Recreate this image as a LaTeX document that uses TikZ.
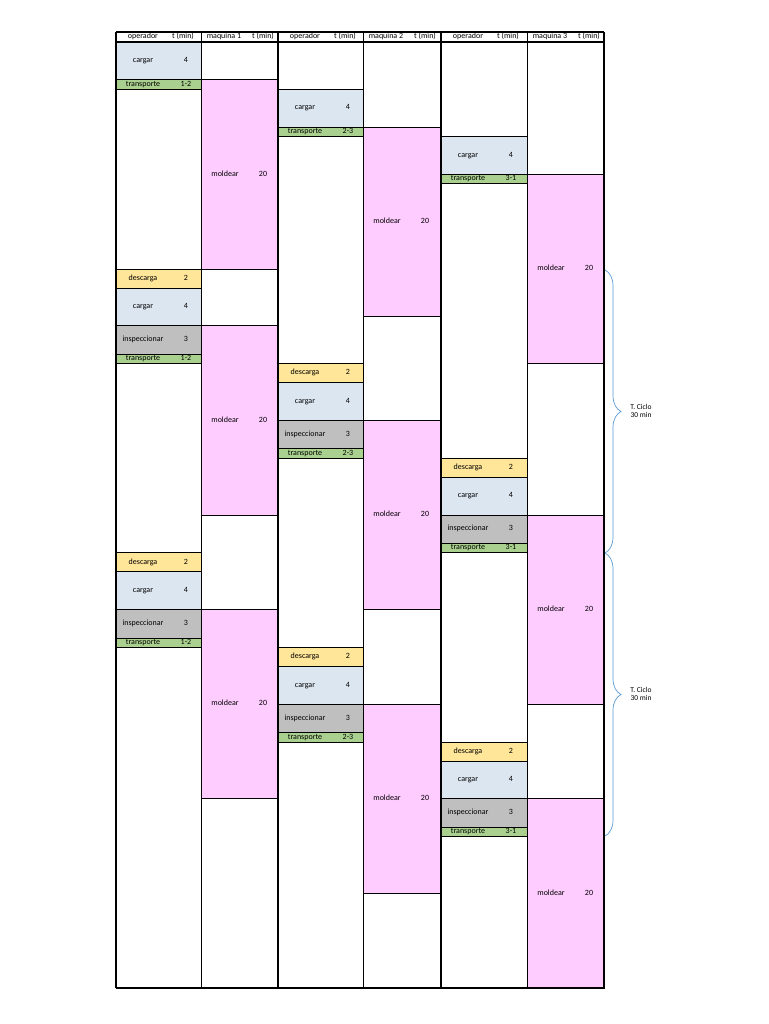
\documentclass[tikz,border=0pt]{standalone}
\usepackage{fontspec}
\setmainfont{Carlito}
\usetikzlibrary{decorations.pathreplacing}
\definecolor{cload}{HTML}{DCE6F1}
\definecolor{ctrans}{HTML}{A9D08E}
\definecolor{cdesc}{HTML}{FFE699}
\definecolor{cinsp}{HTML}{BFBFBF}
\definecolor{cmold}{HTML}{FFCCFF}
\definecolor{cbrace}{HTML}{5B9BD5}
\begin{document}
\begin{tikzpicture}[x=1pt,y=-1pt,
  cell/.style={draw=black, line width=0.8pt},
  grp/.style={draw=black, line width=1.6pt},
  lbl/.style={font=\fontsize{8}{9}\selectfont, inner sep=0pt, text height=5pt, text depth=1.5pt},
  blbl/.style={font=\fontsize{7.5}{8.5}\selectfont, inner sep=0pt, align=center},
  bracestyle/.style={draw=cbrace, line width=0.7pt, decorate, decoration={brace, amplitude=16pt}}]
\useasboundingbox (0,0) rectangle (768,1024);
\fill[white] (0,0) rectangle (768,1024);

% columns (white body + header)
\foreach \nm/\xa/\xb/\ha/\hb/\la/\lb in {c1/116/201/27/67/operador/t (min), c2/201/278/23/62/maquina 1/t (min),
  c3/278/363/27/67/operador/t (min), c4/363/441/23/62/maquina 2/t (min),
  c5/441/527/27/67/operador/t (min), c6/527/604/23/62/maquina 3/t (min)}{
  \draw[cell] (\xa,42) rectangle (\xb,988);
  \draw[cell] (\xa,32) rectangle (\xb,42);
  \node[lbl] (\nm-h1) at (\xa+\ha,37) {\la};
  \node[lbl] (\nm-h2) at (\xa+\hb,37) {\lb};
}

% operator segments
\foreach \nm/\xa/\xb/\ta/\tb/\col/\txt/\num in {
  o1s1/116/201/0/4/cload/cargar/4,
  o1s2/116/201/4/5/ctrans/transporte/1-2,
  o1s3/116/201/24/26/cdesc/descarga/2,
  o1s4/116/201/26/30/cload/cargar/4,
  o1s5/116/201/30/33/cinsp/inspeccionar/3,
  o1s6/116/201/33/34/ctrans/transporte/1-2,
  o1s7/116/201/54/56/cdesc/descarga/2,
  o1s8/116/201/56/60/cload/cargar/4,
  o1s9/116/201/60/63/cinsp/inspeccionar/3,
  o1s10/116/201/63/64/ctrans/transporte/1-2,
  o2s1/278/363/5/9/cload/cargar/4,
  o2s2/278/363/9/10/ctrans/transporte/2-3,
  o2s3/278/363/34/36/cdesc/descarga/2,
  o2s4/278/363/36/40/cload/cargar/4,
  o2s5/278/363/40/43/cinsp/inspeccionar/3,
  o2s6/278/363/43/44/ctrans/transporte/2-3,
  o2s7/278/363/64/66/cdesc/descarga/2,
  o2s8/278/363/66/70/cload/cargar/4,
  o2s9/278/363/70/73/cinsp/inspeccionar/3,
  o2s10/278/363/73/74/ctrans/transporte/2-3,
  o3s1/441/527/10/14/cload/cargar/4,
  o3s2/441/527/14/15/ctrans/transporte/3-1,
  o3s3/441/527/44/46/cdesc/descarga/2,
  o3s4/441/527/46/50/cload/cargar/4,
  o3s5/441/527/50/53/cinsp/inspeccionar/3,
  o3s6/441/527/53/54/ctrans/transporte/3-1,
  o3s7/441/527/74/76/cdesc/descarga/2,
  o3s8/441/527/76/80/cload/cargar/4,
  o3s9/441/527/80/83/cinsp/inspeccionar/3,
  o3s10/441/527/83/84/ctrans/transporte/3-1}{
  \pgfmathsetmacro\ya{42+9.46*\ta}
  \pgfmathsetmacro\yb{42+9.46*\tb}
  \pgfmathsetmacro\ym{(\ya+\yb)/2}
  \filldraw[cell, fill=\col] (\xa,\ya) rectangle (\xb,\yb);
  \node[lbl] (\nm-a) at (\xa+27,\ym) {\txt};
  \node[lbl] (\nm-b) at (\xa+70,\ym) {\num};
}

% machine segments
\foreach \nm/\xa/\xb/\ta/\tb in {
  m1s1/201/278/4/24, m1s2/201/278/30/50, m1s3/201/278/60/80,
  m2s1/363/441/9/29, m2s2/363/441/40/60, m2s3/363/441/70/90,
  m3s1/527/604/14/34, m3s2/527/604/50/70, m3s3/527/604/80/100}{
  \pgfmathsetmacro\ya{42+9.46*\ta}
  \pgfmathsetmacro\yb{42+9.46*\tb}
  \pgfmathsetmacro\ym{(\ya+\yb)/2}
  \filldraw[cell, fill=cmold] (\xa,\ya) rectangle (\xb,\yb);
  \node[lbl] (\nm-a) at (\xa+24,\ym) {moldear};
  \node[lbl] (\nm-b) at (\xa+62,\ym) {20};
}

% group lines
\foreach \x in {116,278,441,604}{
  \draw[grp] (\x,32) -- (\x,988);
}
\draw[grp] (116,32) -- (604,32);
\draw[grp] (116,988) -- (604,988);
\draw[cell, line width=1.2pt] (116,42) -- (604,42);

% braces
\coordinate (b1a) at (605,270);
\coordinate (b1b) at (605,553);
\coordinate (b2a) at (605,553);
\coordinate (b2b) at (605,836);
\draw[bracestyle] (b1a) -- (b1b);
\draw[bracestyle] (b2a) -- (b2b);
\node[blbl] (cyc1) at (641,411) {T. Ciclo\\30 min};
\node[blbl] (cyc2) at (641,694) {T. Ciclo\\30 min};
\end{tikzpicture}
\end{document}
